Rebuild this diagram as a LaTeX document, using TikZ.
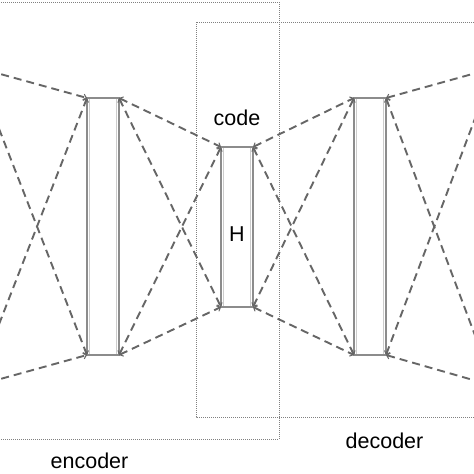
\documentclass[tikz,border=0pt]{standalone}
\usepackage{fontspec}
\setmainfont{Liberation Sans}
\usetikzlibrary{arrows.meta}
\begin{document}
\begin{tikzpicture}[x=1pt,y=-1pt,
  layerbar/.style={draw=black!45,line width=1.5pt,fill=white,rectangle,outer sep=0pt,inner sep=0pt,minimum width=32pt},
  conn/.style={draw=black!60,line width=1.9pt,dash pattern=on 8pt off 5pt,
     {Straight Barb[length=3pt,width=6pt,line width=1pt]}-{Straight Barb[length=3pt,width=6pt,line width=1pt]}},
  groupbox/.style={draw=black!50,line width=0.7pt,dash pattern=on 1pt off 1pt},
  lbl/.style={font=\fontsize{21.5}{25}\selectfont,anchor=base,inner sep=0pt}
]
\useasboundingbox (0,0) rectangle (474,474);
\clip (0,0) rectangle (474,474);
\fill[white] (0,0) rectangle (474,474);
% group boxes
\draw[groupbox] (-20,2) rectangle (279,439);
\draw[groupbox] (196,22) rectangle (500,417);
% bars
\node[layerbar,minimum height=257pt] (enc) at (103,226.5) {};
\node[layerbar,minimum height=160pt] (code) at (237,227) {};
\node[layerbar,minimum height=257pt] (dec) at (370,226.5) {};
\foreach \b in {enc,code,dec}{
  \draw[black!20,line width=1.2pt] ([xshift=2.2pt,yshift=-1pt]\b.north west) -- ([xshift=2.2pt,yshift=1pt]\b.south west);
  \draw[black!20,line width=1.2pt] ([xshift=-2.2pt,yshift=-1pt]\b.north east) -- ([xshift=-2.2pt,yshift=1pt]\b.south east);
}
% off-picture input and output layers
\coordinate (inT) at (-25,67);
\coordinate (inB) at (-25,386);
\coordinate (outT) at (494,68);
\coordinate (outB) at (494,386);
% input -> encoder
\draw[conn] (inT) -- (enc.north west);
\draw[conn] (inT) -- (enc.south west);
\draw[conn] (inB) -- (enc.north west);
\draw[conn] (inB) -- (enc.south west);
% encoder -> code
\draw[conn] (enc.north east) -- (code.north west);
\draw[conn] (enc.north east) -- (code.south west);
\draw[conn] (enc.south east) -- (code.north west);
\draw[conn] (enc.south east) -- (code.south west);
% code -> decoder
\draw[conn] (code.north east) -- (dec.north west);
\draw[conn] (code.north east) -- (dec.south west);
\draw[conn] (code.south east) -- (dec.north west);
\draw[conn] (code.south east) -- (dec.south west);
% decoder -> output
\draw[conn] (dec.north east) -- (outT);
\draw[conn] (dec.north east) -- (outB);
\draw[conn] (dec.south east) -- (outT);
\draw[conn] (dec.south east) -- (outB);
% labels
\node[lbl] (codelbl) at (237,125) {code};
\node[lbl] (hlbl) at (237,241.5) {H};
\node[lbl] (enclbl) at (89.5,468) {encoder};
\node[lbl] (declbl) at (384.5,448) {decoder};
\end{tikzpicture}
\end{document}
